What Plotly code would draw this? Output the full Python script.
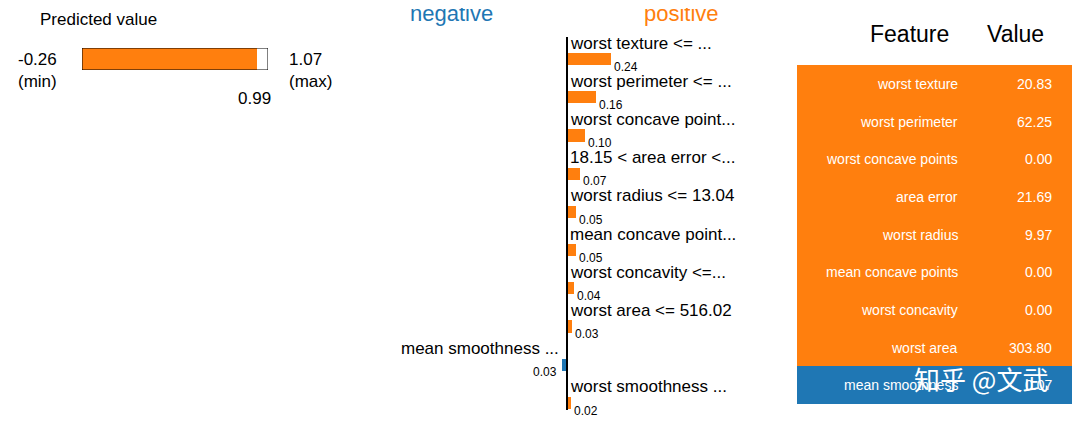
import plotly.graph_objects as go

W, H = 1080, 424
pred_min, pred_max, pred_val = -0.26, 1.07, 0.99
features = ["worst texture <= ...", "worst perimeter <= ...", "worst concave point...",
            "18.15 < area error <...", "worst radius <= 13.04", "mean concave point...",
            "worst concavity <=...", "worst area <= 516.02", "mean smoothness ...",
            "worst smoothness ..."]
weights = [0.24, 0.16, 0.10, 0.07, 0.05, 0.05, 0.04, 0.03, -0.03, 0.02]
tab_names = ["worst texture", "worst perimeter", "worst concave points", "area error",
             "worst radius", "mean concave points", "worst concavity", "worst area",
             "mean smoothness"]
tab_vals = ["20.83", "62.25", "0.00", "21.69", "9.97", "0.00", "0.00", "303.80", "0.07"]

ORANGE, BLUE = "#ff7f0e", "#1f77b4"
FONT = "Liberation Sans, Arial, sans-serif"
OFF = 8  # page body margin

def px(x): return (x - OFF) / W
def py(y): return 1 - (y - OFF) / H

fig = go.Figure()
fig.add_trace(go.Bar(x=[pred_val - pred_min], base=[pred_min], y=[0], orientation="h",
                     marker=dict(color=ORANGE, line=dict(width=0)), width=1,
                     xaxis="x", yaxis="y", showlegend=False, hoverinfo="skip"))
fig.add_shape(type="rect", xref="x", yref="y", x0=pred_min, x1=pred_max, y0=-0.5, y1=0.5,
              line=dict(color="black", width=1))
cols = [ORANGE if w > 0 else BLUE for w in weights]
fig.add_trace(go.Bar(x=weights, y=list(range(len(weights))), orientation="h", width=0.32,
                     marker=dict(color=cols, line=dict(width=0)),
                     xaxis="x2", yaxis="y2", showlegend=False, hoverinfo="skip"))
fig.add_shape(type="line", xref="x2", yref="paper", x0=0, x1=0, y0=py(37), y1=py(410),
              line=dict(color="black", width=2))
tcols = [ORANGE if w > 0 else BLUE for w in weights[:len(tab_names)]]
fig.add_trace(go.Bar(x=[1] * len(tab_names), y=list(range(len(tab_names))), orientation="h",
                     width=1, marker=dict(color=tcols, line=dict(width=0)),
                     xaxis="x3", yaxis="y3", showlegend=False, hoverinfo="skip"))

ann = []
def A(text, x, y, xref="paper", yref="paper", size=17, color="black", xa="left", ya="middle"):
    ann.append(dict(text=text, x=x, y=y, xref=xref, yref=yref, showarrow=False,
                    font=dict(size=size, color=color, family=FONT), xanchor=xa, yanchor=ya))

A("Predicted value", px(38), py(20))
A(f"{pred_min:.2f}", px(16), py(60))
A("(min)", px(16), py(81))
A(f"{pred_max:.2f}", px(287), py(60))
A("(max)", px(287), py(81))
A(f"{pred_val:.2f}", px(273), py(98), xa="right")
A("negative", px(451), py(13), size=22, color=BLUE, xa="center")
A("positive", px(681), py(13), size=22, color=ORANGE, xa="center")
for i, (f, w) in enumerate(zip(features, weights)):
    if w > 0:
        A(f, 0.005, i - 0.42, xref="x2", yref="y2")
        A(f"{w:.2f}", w + 0.005, i + 0.2, xref="x2", yref="y2", size=12)
    else:
        A(f, -0.035, i - 0.42, xref="x2", yref="y2", xa="right")
        A(f"{abs(w):.2f}", -0.045, i + 0.2, xref="x2", yref="y2", size=12, xa="right")
A("Feature", px(909), py(34), size=23, xa="center")
A("Value", px(1015), py(34), size=23, xa="center")
for i, (n, v) in enumerate(zip(tab_names, tab_vals)):
    A(n, 0.585, i, xref="x3", yref="y3", size=14, color="white", xa="right")
    A(v, 0.925, i, xref="x3", yref="y3", size=14, color="white", xa="right")
A("知乎 @文武", px(1050), py(378), size=26, color="white", xa="right")
ann[-1]["font"]["family"] = "Noto Sans CJK SC"

noax = dict(showgrid=False, zeroline=False, showticklabels=False, showline=False, ticks="")
fig.update_layout(
    width=W, height=H, margin=dict(l=0, r=0, t=0, b=0), plot_bgcolor="white",
    paper_bgcolor="white", annotations=ann, bargap=0,
    xaxis=dict(domain=[px(82), px(268)], range=[pred_min, pred_max], **noax),
    yaxis=dict(domain=[py(70), py(48)], range=[-0.5, 0.5], **noax),
    xaxis2=dict(domain=[px(380), px(790)], range=[-187 / 183, 223 / 183], anchor="y2", **noax),
    yaxis2=dict(domain=[py(422), py(40)], range=[9.5, -0.5], anchor="x2", **noax),
    xaxis3=dict(domain=[px(797), px(1075)], range=[0, 1], anchor="y3", **noax),
    yaxis3=dict(domain=[py(404), py(65)], range=[8.5, -0.5], anchor="x3", **noax),
)
fig.write_html("out.html")
